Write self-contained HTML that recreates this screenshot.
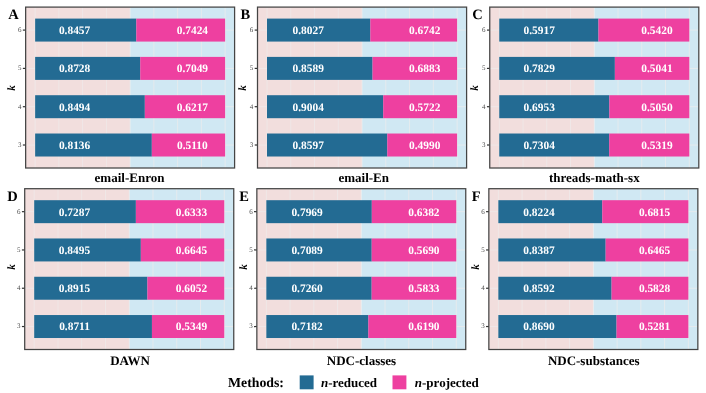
<!DOCTYPE html>
<html lang="en"><head><meta charset="utf-8"><title>Methods comparison</title>
<style>
html,body{margin:0;padding:0;background:#fff}
svg{display:block}
text{font-family:"Liberation Serif","Times New Roman",serif;text-rendering:geometricPrecision}
.v{font-size:11.4px;font-weight:bold;fill:#fff;text-anchor:middle}
.t{font-size:13px;font-weight:bold;fill:#000;text-anchor:middle}
.g{font-size:14.5px;font-weight:bold;fill:#000}
.k{font-size:7px;fill:#4d4d4d;text-anchor:end}
.y{font-size:11.2px;font-weight:bold;font-style:italic;fill:#000;text-anchor:middle}
.l{font-size:13px;font-weight:bold;fill:#000}
.lt{font-size:13.8px;font-weight:bold;fill:#000}
</style></head><body>
<svg width="706" height="393" viewBox="0 0 706 393">
<rect width="706" height="393" fill="#fff"/>

<g id="panelA">
<rect x="25.65" y="7.10" width="104.47" height="160.90" fill="#f2dedd"/>
<rect x="130.12" y="7.10" width="104.47" height="160.90" fill="#d0e8f3"/>
<line x1="35.15" y1="7.10" x2="35.15" y2="168.00" stroke="#efecec" stroke-opacity="0.85" stroke-width="0.8"/>
<line x1="58.89" y1="7.10" x2="58.89" y2="168.00" stroke="#efecec" stroke-opacity="0.85" stroke-width="0.8"/>
<line x1="82.64" y1="7.10" x2="82.64" y2="168.00" stroke="#efecec" stroke-opacity="0.85" stroke-width="0.8"/>
<line x1="106.38" y1="7.10" x2="106.38" y2="168.00" stroke="#efecec" stroke-opacity="0.85" stroke-width="0.8"/>
<line x1="130.12" y1="7.10" x2="130.12" y2="168.00" stroke="#efecec" stroke-opacity="0.85" stroke-width="0.8"/>
<line x1="153.87" y1="7.10" x2="153.87" y2="168.00" stroke="#efecec" stroke-opacity="0.85" stroke-width="0.8"/>
<line x1="177.61" y1="7.10" x2="177.61" y2="168.00" stroke="#efecec" stroke-opacity="0.85" stroke-width="0.8"/>
<line x1="201.36" y1="7.10" x2="201.36" y2="168.00" stroke="#efecec" stroke-opacity="0.85" stroke-width="0.8"/>
<line x1="225.10" y1="7.10" x2="225.10" y2="168.00" stroke="#efecec" stroke-opacity="0.85" stroke-width="0.8"/>
<line x1="25.65" y1="30.09" x2="234.60" y2="30.09" stroke="#efecec" stroke-opacity="0.85" stroke-width="0.8"/>
<line x1="25.65" y1="68.40" x2="234.60" y2="68.40" stroke="#efecec" stroke-opacity="0.85" stroke-width="0.8"/>
<line x1="25.65" y1="106.70" x2="234.60" y2="106.70" stroke="#efecec" stroke-opacity="0.85" stroke-width="0.8"/>
<line x1="25.65" y1="145.01" x2="234.60" y2="145.01" stroke="#efecec" stroke-opacity="0.85" stroke-width="0.8"/>
<rect x="35.15" y="18.59" width="101.16" height="22.99" fill="#236b93"/>
<rect x="136.30" y="18.59" width="88.80" height="22.99" fill="#ee40a0"/>
<text class="v" x="74.60" y="33.94">0.8457</text>
<text class="v" x="192.40" y="33.94">0.7424</text>
<line x1="22.85" y1="30.09" x2="25.65" y2="30.09" stroke="#333" stroke-width="1.2"/>
<text class="k" x="21.45" y="31.94">6</text>
<rect x="35.15" y="56.90" width="105.08" height="22.99" fill="#236b93"/>
<rect x="140.23" y="56.90" width="84.87" height="22.99" fill="#ee40a0"/>
<text class="v" x="74.60" y="72.25">0.8728</text>
<text class="v" x="192.40" y="72.25">0.7049</text>
<line x1="22.85" y1="68.40" x2="25.65" y2="68.40" stroke="#333" stroke-width="1.2"/>
<text class="k" x="21.45" y="70.25">5</text>
<rect x="35.15" y="95.21" width="109.68" height="22.99" fill="#236b93"/>
<rect x="144.83" y="95.21" width="80.28" height="22.99" fill="#ee40a0"/>
<text class="v" x="74.60" y="110.55">0.8494</text>
<text class="v" x="192.40" y="110.55">0.6217</text>
<line x1="22.85" y1="106.70" x2="25.65" y2="106.70" stroke="#333" stroke-width="1.2"/>
<text class="k" x="21.45" y="108.55">4</text>
<rect x="35.15" y="133.52" width="116.67" height="22.99" fill="#236b93"/>
<rect x="151.82" y="133.52" width="73.28" height="22.99" fill="#ee40a0"/>
<text class="v" x="74.60" y="148.86">0.8136</text>
<text class="v" x="192.40" y="148.86">0.5110</text>
<line x1="22.85" y1="145.01" x2="25.65" y2="145.01" stroke="#333" stroke-width="1.2"/>
<text class="k" x="21.45" y="146.86">3</text>
<rect x="25.65" y="7.10" width="208.95" height="160.90" fill="none" stroke="#444" stroke-width="1.25"/>
<text class="g" x="8.30" y="18.70">A</text>
<text class="y" transform="translate(14.85,88.00) rotate(-90)">k</text>
<text class="t" x="129.50" y="181.80">email-Enron</text>
</g>
<g id="panelB">
<rect x="257.50" y="7.10" width="104.55" height="160.90" fill="#f2dedd"/>
<rect x="362.05" y="7.10" width="104.55" height="160.90" fill="#d0e8f3"/>
<line x1="267.00" y1="7.10" x2="267.00" y2="168.00" stroke="#efecec" stroke-opacity="0.85" stroke-width="0.8"/>
<line x1="290.77" y1="7.10" x2="290.77" y2="168.00" stroke="#efecec" stroke-opacity="0.85" stroke-width="0.8"/>
<line x1="314.53" y1="7.10" x2="314.53" y2="168.00" stroke="#efecec" stroke-opacity="0.85" stroke-width="0.8"/>
<line x1="338.29" y1="7.10" x2="338.29" y2="168.00" stroke="#efecec" stroke-opacity="0.85" stroke-width="0.8"/>
<line x1="362.05" y1="7.10" x2="362.05" y2="168.00" stroke="#efecec" stroke-opacity="0.85" stroke-width="0.8"/>
<line x1="385.81" y1="7.10" x2="385.81" y2="168.00" stroke="#efecec" stroke-opacity="0.85" stroke-width="0.8"/>
<line x1="409.57" y1="7.10" x2="409.57" y2="168.00" stroke="#efecec" stroke-opacity="0.85" stroke-width="0.8"/>
<line x1="433.33" y1="7.10" x2="433.33" y2="168.00" stroke="#efecec" stroke-opacity="0.85" stroke-width="0.8"/>
<line x1="457.10" y1="7.10" x2="457.10" y2="168.00" stroke="#efecec" stroke-opacity="0.85" stroke-width="0.8"/>
<line x1="257.50" y1="30.09" x2="466.60" y2="30.09" stroke="#efecec" stroke-opacity="0.85" stroke-width="0.8"/>
<line x1="257.50" y1="68.40" x2="466.60" y2="68.40" stroke="#efecec" stroke-opacity="0.85" stroke-width="0.8"/>
<line x1="257.50" y1="106.70" x2="466.60" y2="106.70" stroke="#efecec" stroke-opacity="0.85" stroke-width="0.8"/>
<line x1="257.50" y1="145.01" x2="466.60" y2="145.01" stroke="#efecec" stroke-opacity="0.85" stroke-width="0.8"/>
<rect x="267.00" y="18.59" width="103.32" height="22.99" fill="#236b93"/>
<rect x="370.32" y="18.59" width="86.78" height="22.99" fill="#ee40a0"/>
<text class="v" x="308.20" y="33.94">0.8027</text>
<text class="v" x="424.70" y="33.94">0.6742</text>
<line x1="254.70" y1="30.09" x2="257.50" y2="30.09" stroke="#333" stroke-width="1.2"/>
<text class="k" x="253.30" y="31.94">6</text>
<rect x="267.00" y="56.90" width="105.53" height="22.99" fill="#236b93"/>
<rect x="372.53" y="56.90" width="84.57" height="22.99" fill="#ee40a0"/>
<text class="v" x="308.20" y="72.25">0.8589</text>
<text class="v" x="424.70" y="72.25">0.6883</text>
<line x1="254.70" y1="68.40" x2="257.50" y2="68.40" stroke="#333" stroke-width="1.2"/>
<text class="k" x="253.30" y="70.25">5</text>
<rect x="267.00" y="95.21" width="116.23" height="22.99" fill="#236b93"/>
<rect x="383.23" y="95.21" width="73.86" height="22.99" fill="#ee40a0"/>
<text class="v" x="308.20" y="110.55">0.9004</text>
<text class="v" x="424.70" y="110.55">0.5722</text>
<line x1="254.70" y1="106.70" x2="257.50" y2="106.70" stroke="#333" stroke-width="1.2"/>
<text class="k" x="253.30" y="108.55">4</text>
<rect x="267.00" y="133.52" width="120.28" height="22.99" fill="#236b93"/>
<rect x="387.28" y="133.52" width="69.81" height="22.99" fill="#ee40a0"/>
<text class="v" x="308.20" y="148.86">0.8597</text>
<text class="v" x="424.70" y="148.86">0.4990</text>
<line x1="254.70" y1="145.01" x2="257.50" y2="145.01" stroke="#333" stroke-width="1.2"/>
<text class="k" x="253.30" y="146.86">3</text>
<rect x="257.50" y="7.10" width="209.10" height="160.90" fill="none" stroke="#444" stroke-width="1.25"/>
<text class="g" x="240.55" y="18.70">B</text>
<text class="y" transform="translate(246.20,88.00) rotate(-90)">k</text>
<text class="t" x="363.75" y="181.80">email-En</text>
</g>
<g id="panelC">
<rect x="489.75" y="7.10" width="104.52" height="160.90" fill="#f2dedd"/>
<rect x="594.27" y="7.10" width="104.52" height="160.90" fill="#d0e8f3"/>
<line x1="499.25" y1="7.10" x2="499.25" y2="168.00" stroke="#efecec" stroke-opacity="0.85" stroke-width="0.8"/>
<line x1="523.01" y1="7.10" x2="523.01" y2="168.00" stroke="#efecec" stroke-opacity="0.85" stroke-width="0.8"/>
<line x1="546.76" y1="7.10" x2="546.76" y2="168.00" stroke="#efecec" stroke-opacity="0.85" stroke-width="0.8"/>
<line x1="570.52" y1="7.10" x2="570.52" y2="168.00" stroke="#efecec" stroke-opacity="0.85" stroke-width="0.8"/>
<line x1="594.27" y1="7.10" x2="594.27" y2="168.00" stroke="#efecec" stroke-opacity="0.85" stroke-width="0.8"/>
<line x1="618.03" y1="7.10" x2="618.03" y2="168.00" stroke="#efecec" stroke-opacity="0.85" stroke-width="0.8"/>
<line x1="641.79" y1="7.10" x2="641.79" y2="168.00" stroke="#efecec" stroke-opacity="0.85" stroke-width="0.8"/>
<line x1="665.54" y1="7.10" x2="665.54" y2="168.00" stroke="#efecec" stroke-opacity="0.85" stroke-width="0.8"/>
<line x1="689.30" y1="7.10" x2="689.30" y2="168.00" stroke="#efecec" stroke-opacity="0.85" stroke-width="0.8"/>
<line x1="489.75" y1="30.09" x2="698.80" y2="30.09" stroke="#efecec" stroke-opacity="0.85" stroke-width="0.8"/>
<line x1="489.75" y1="68.40" x2="698.80" y2="68.40" stroke="#efecec" stroke-opacity="0.85" stroke-width="0.8"/>
<line x1="489.75" y1="106.70" x2="698.80" y2="106.70" stroke="#efecec" stroke-opacity="0.85" stroke-width="0.8"/>
<line x1="489.75" y1="145.01" x2="698.80" y2="145.01" stroke="#efecec" stroke-opacity="0.85" stroke-width="0.8"/>
<rect x="499.25" y="18.59" width="99.19" height="22.99" fill="#236b93"/>
<rect x="598.44" y="18.59" width="90.86" height="22.99" fill="#ee40a0"/>
<text class="v" x="539.20" y="33.94">0.5917</text>
<text class="v" x="657.00" y="33.94">0.5420</text>
<line x1="486.95" y1="30.09" x2="489.75" y2="30.09" stroke="#333" stroke-width="1.2"/>
<text class="k" x="485.55" y="31.94">6</text>
<rect x="499.25" y="56.90" width="115.61" height="22.99" fill="#236b93"/>
<rect x="614.86" y="56.90" width="74.44" height="22.99" fill="#ee40a0"/>
<text class="v" x="539.20" y="72.25">0.7829</text>
<text class="v" x="657.00" y="72.25">0.5041</text>
<line x1="486.95" y1="68.40" x2="489.75" y2="68.40" stroke="#333" stroke-width="1.2"/>
<text class="k" x="485.55" y="70.25">5</text>
<rect x="499.25" y="95.21" width="110.09" height="22.99" fill="#236b93"/>
<rect x="609.34" y="95.21" width="79.96" height="22.99" fill="#ee40a0"/>
<text class="v" x="539.20" y="110.55">0.6953</text>
<text class="v" x="657.00" y="110.55">0.5050</text>
<line x1="486.95" y1="106.70" x2="489.75" y2="106.70" stroke="#333" stroke-width="1.2"/>
<text class="k" x="485.55" y="108.55">4</text>
<rect x="499.25" y="133.52" width="109.97" height="22.99" fill="#236b93"/>
<rect x="609.22" y="133.52" width="80.08" height="22.99" fill="#ee40a0"/>
<text class="v" x="539.20" y="148.86">0.7304</text>
<text class="v" x="657.00" y="148.86">0.5319</text>
<line x1="486.95" y1="145.01" x2="489.75" y2="145.01" stroke="#333" stroke-width="1.2"/>
<text class="k" x="485.55" y="146.86">3</text>
<rect x="489.75" y="7.10" width="209.05" height="160.90" fill="none" stroke="#444" stroke-width="1.25"/>
<text class="g" x="472.30" y="18.70">C</text>
<text class="y" transform="translate(478.45,88.00) rotate(-90)">k</text>
<text class="t" x="594.30" y="181.80">threads-math-sx</text>
</g>
<g id="panelD">
<rect x="24.70" y="188.70" width="104.52" height="160.80" fill="#f2dedd"/>
<rect x="129.22" y="188.70" width="104.53" height="160.80" fill="#d0e8f3"/>
<line x1="34.20" y1="188.70" x2="34.20" y2="349.50" stroke="#efecec" stroke-opacity="0.85" stroke-width="0.8"/>
<line x1="57.96" y1="188.70" x2="57.96" y2="349.50" stroke="#efecec" stroke-opacity="0.85" stroke-width="0.8"/>
<line x1="81.71" y1="188.70" x2="81.71" y2="349.50" stroke="#efecec" stroke-opacity="0.85" stroke-width="0.8"/>
<line x1="105.47" y1="188.70" x2="105.47" y2="349.50" stroke="#efecec" stroke-opacity="0.85" stroke-width="0.8"/>
<line x1="129.22" y1="188.70" x2="129.22" y2="349.50" stroke="#efecec" stroke-opacity="0.85" stroke-width="0.8"/>
<line x1="152.98" y1="188.70" x2="152.98" y2="349.50" stroke="#efecec" stroke-opacity="0.85" stroke-width="0.8"/>
<line x1="176.74" y1="188.70" x2="176.74" y2="349.50" stroke="#efecec" stroke-opacity="0.85" stroke-width="0.8"/>
<line x1="200.49" y1="188.70" x2="200.49" y2="349.50" stroke="#efecec" stroke-opacity="0.85" stroke-width="0.8"/>
<line x1="224.25" y1="188.70" x2="224.25" y2="349.50" stroke="#efecec" stroke-opacity="0.85" stroke-width="0.8"/>
<line x1="24.70" y1="211.67" x2="233.75" y2="211.67" stroke="#efecec" stroke-opacity="0.85" stroke-width="0.8"/>
<line x1="24.70" y1="249.96" x2="233.75" y2="249.96" stroke="#efecec" stroke-opacity="0.85" stroke-width="0.8"/>
<line x1="24.70" y1="288.24" x2="233.75" y2="288.24" stroke="#efecec" stroke-opacity="0.85" stroke-width="0.8"/>
<line x1="24.70" y1="326.53" x2="233.75" y2="326.53" stroke="#efecec" stroke-opacity="0.85" stroke-width="0.8"/>
<rect x="34.20" y="200.19" width="101.68" height="22.97" fill="#236b93"/>
<rect x="135.88" y="200.19" width="88.37" height="22.97" fill="#ee40a0"/>
<text class="v" x="74.50" y="215.52">0.7287</text>
<text class="v" x="191.50" y="215.52">0.6333</text>
<line x1="21.90" y1="211.67" x2="24.70" y2="211.67" stroke="#333" stroke-width="1.2"/>
<text class="k" x="20.50" y="213.52">6</text>
<rect x="34.20" y="238.47" width="106.63" height="22.97" fill="#236b93"/>
<rect x="140.84" y="238.47" width="83.41" height="22.97" fill="#ee40a0"/>
<text class="v" x="74.50" y="253.81">0.8495</text>
<text class="v" x="191.50" y="253.81">0.6645</text>
<line x1="21.90" y1="249.96" x2="24.70" y2="249.96" stroke="#333" stroke-width="1.2"/>
<text class="k" x="20.50" y="251.81">5</text>
<rect x="34.20" y="276.76" width="113.20" height="22.97" fill="#236b93"/>
<rect x="147.40" y="276.76" width="76.85" height="22.97" fill="#ee40a0"/>
<text class="v" x="74.50" y="292.09">0.8915</text>
<text class="v" x="191.50" y="292.09">0.6052</text>
<line x1="21.90" y1="288.24" x2="24.70" y2="288.24" stroke="#333" stroke-width="1.2"/>
<text class="k" x="20.50" y="290.09">4</text>
<rect x="34.20" y="315.04" width="117.74" height="22.97" fill="#236b93"/>
<rect x="151.95" y="315.04" width="72.30" height="22.97" fill="#ee40a0"/>
<text class="v" x="74.50" y="330.38">0.8711</text>
<text class="v" x="191.50" y="330.38">0.5349</text>
<line x1="21.90" y1="326.53" x2="24.70" y2="326.53" stroke="#333" stroke-width="1.2"/>
<text class="k" x="20.50" y="328.38">3</text>
<rect x="24.70" y="188.70" width="209.05" height="160.80" fill="none" stroke="#444" stroke-width="1.25"/>
<text class="g" x="7.30" y="201.30">D</text>
<text class="y" transform="translate(14.95,267.05) rotate(-90)">k</text>
<text class="t" x="130.05" y="364.50">DAWN</text>
</g>
<g id="panelE">
<rect x="256.85" y="188.70" width="104.45" height="160.80" fill="#f2dedd"/>
<rect x="361.30" y="188.70" width="104.45" height="160.80" fill="#d0e8f3"/>
<line x1="266.35" y1="188.70" x2="266.35" y2="349.50" stroke="#efecec" stroke-opacity="0.85" stroke-width="0.8"/>
<line x1="290.08" y1="188.70" x2="290.08" y2="349.50" stroke="#efecec" stroke-opacity="0.85" stroke-width="0.8"/>
<line x1="313.82" y1="188.70" x2="313.82" y2="349.50" stroke="#efecec" stroke-opacity="0.85" stroke-width="0.8"/>
<line x1="337.56" y1="188.70" x2="337.56" y2="349.50" stroke="#efecec" stroke-opacity="0.85" stroke-width="0.8"/>
<line x1="361.30" y1="188.70" x2="361.30" y2="349.50" stroke="#efecec" stroke-opacity="0.85" stroke-width="0.8"/>
<line x1="385.04" y1="188.70" x2="385.04" y2="349.50" stroke="#efecec" stroke-opacity="0.85" stroke-width="0.8"/>
<line x1="408.78" y1="188.70" x2="408.78" y2="349.50" stroke="#efecec" stroke-opacity="0.85" stroke-width="0.8"/>
<line x1="432.52" y1="188.70" x2="432.52" y2="349.50" stroke="#efecec" stroke-opacity="0.85" stroke-width="0.8"/>
<line x1="456.25" y1="188.70" x2="456.25" y2="349.50" stroke="#efecec" stroke-opacity="0.85" stroke-width="0.8"/>
<line x1="256.85" y1="211.67" x2="465.75" y2="211.67" stroke="#efecec" stroke-opacity="0.85" stroke-width="0.8"/>
<line x1="256.85" y1="249.96" x2="465.75" y2="249.96" stroke="#efecec" stroke-opacity="0.85" stroke-width="0.8"/>
<line x1="256.85" y1="288.24" x2="465.75" y2="288.24" stroke="#efecec" stroke-opacity="0.85" stroke-width="0.8"/>
<line x1="256.85" y1="326.53" x2="465.75" y2="326.53" stroke="#efecec" stroke-opacity="0.85" stroke-width="0.8"/>
<rect x="266.35" y="200.19" width="105.46" height="22.97" fill="#236b93"/>
<rect x="371.80" y="200.19" width="84.45" height="22.97" fill="#ee40a0"/>
<text class="v" x="307.10" y="215.52">0.7969</text>
<text class="v" x="423.90" y="215.52">0.6382</text>
<line x1="254.05" y1="211.67" x2="256.85" y2="211.67" stroke="#333" stroke-width="1.2"/>
<text class="k" x="252.65" y="213.52">6</text>
<rect x="266.35" y="238.47" width="105.35" height="22.97" fill="#236b93"/>
<rect x="371.70" y="238.47" width="84.56" height="22.97" fill="#ee40a0"/>
<text class="v" x="307.10" y="253.81">0.7089</text>
<text class="v" x="423.90" y="253.81">0.5690</text>
<line x1="254.05" y1="249.96" x2="256.85" y2="249.96" stroke="#333" stroke-width="1.2"/>
<text class="k" x="252.65" y="251.81">5</text>
<rect x="266.35" y="276.76" width="105.30" height="22.97" fill="#236b93"/>
<rect x="371.65" y="276.76" width="84.61" height="22.97" fill="#ee40a0"/>
<text class="v" x="307.10" y="292.09">0.7260</text>
<text class="v" x="423.90" y="292.09">0.5833</text>
<line x1="254.05" y1="288.24" x2="256.85" y2="288.24" stroke="#333" stroke-width="1.2"/>
<text class="k" x="252.65" y="290.09">4</text>
<rect x="266.35" y="315.04" width="102.00" height="22.97" fill="#236b93"/>
<rect x="368.34" y="315.04" width="87.91" height="22.97" fill="#ee40a0"/>
<text class="v" x="307.10" y="330.38">0.7182</text>
<text class="v" x="423.90" y="330.38">0.6190</text>
<line x1="254.05" y1="326.53" x2="256.85" y2="326.53" stroke="#333" stroke-width="1.2"/>
<text class="k" x="252.65" y="328.38">3</text>
<rect x="256.85" y="188.70" width="208.90" height="160.80" fill="none" stroke="#444" stroke-width="1.25"/>
<text class="g" x="239.25" y="201.30">E</text>
<text class="y" transform="translate(247.05,267.05) rotate(-90)">k</text>
<text class="t" x="361.45" y="364.50">NDC-classes</text>
</g>
<g id="panelF">
<rect x="488.85" y="188.70" width="104.50" height="160.80" fill="#f2dedd"/>
<rect x="593.35" y="188.70" width="104.50" height="160.80" fill="#d0e8f3"/>
<line x1="498.35" y1="188.70" x2="498.35" y2="349.50" stroke="#efecec" stroke-opacity="0.85" stroke-width="0.8"/>
<line x1="522.10" y1="188.70" x2="522.10" y2="349.50" stroke="#efecec" stroke-opacity="0.85" stroke-width="0.8"/>
<line x1="545.85" y1="188.70" x2="545.85" y2="349.50" stroke="#efecec" stroke-opacity="0.85" stroke-width="0.8"/>
<line x1="569.60" y1="188.70" x2="569.60" y2="349.50" stroke="#efecec" stroke-opacity="0.85" stroke-width="0.8"/>
<line x1="593.35" y1="188.70" x2="593.35" y2="349.50" stroke="#efecec" stroke-opacity="0.85" stroke-width="0.8"/>
<line x1="617.10" y1="188.70" x2="617.10" y2="349.50" stroke="#efecec" stroke-opacity="0.85" stroke-width="0.8"/>
<line x1="640.85" y1="188.70" x2="640.85" y2="349.50" stroke="#efecec" stroke-opacity="0.85" stroke-width="0.8"/>
<line x1="664.60" y1="188.70" x2="664.60" y2="349.50" stroke="#efecec" stroke-opacity="0.85" stroke-width="0.8"/>
<line x1="688.35" y1="188.70" x2="688.35" y2="349.50" stroke="#efecec" stroke-opacity="0.85" stroke-width="0.8"/>
<line x1="488.85" y1="211.67" x2="697.85" y2="211.67" stroke="#efecec" stroke-opacity="0.85" stroke-width="0.8"/>
<line x1="488.85" y1="249.96" x2="697.85" y2="249.96" stroke="#efecec" stroke-opacity="0.85" stroke-width="0.8"/>
<line x1="488.85" y1="288.24" x2="697.85" y2="288.24" stroke="#efecec" stroke-opacity="0.85" stroke-width="0.8"/>
<line x1="488.85" y1="326.53" x2="697.85" y2="326.53" stroke="#efecec" stroke-opacity="0.85" stroke-width="0.8"/>
<rect x="498.35" y="200.19" width="103.90" height="22.97" fill="#236b93"/>
<rect x="602.25" y="200.19" width="86.10" height="22.97" fill="#ee40a0"/>
<text class="v" x="539.00" y="215.52">0.8224</text>
<text class="v" x="654.55" y="215.52">0.6815</text>
<line x1="486.05" y1="211.67" x2="488.85" y2="211.67" stroke="#333" stroke-width="1.2"/>
<text class="k" x="484.65" y="213.52">6</text>
<rect x="498.35" y="238.47" width="107.29" height="22.97" fill="#236b93"/>
<rect x="605.64" y="238.47" width="82.71" height="22.97" fill="#ee40a0"/>
<text class="v" x="539.00" y="253.81">0.8387</text>
<text class="v" x="654.55" y="253.81">0.6465</text>
<line x1="486.05" y1="249.96" x2="488.85" y2="249.96" stroke="#333" stroke-width="1.2"/>
<text class="k" x="484.65" y="251.81">5</text>
<rect x="498.35" y="276.76" width="113.21" height="22.97" fill="#236b93"/>
<rect x="611.56" y="276.76" width="76.79" height="22.97" fill="#ee40a0"/>
<text class="v" x="539.00" y="292.09">0.8592</text>
<text class="v" x="654.55" y="292.09">0.5828</text>
<line x1="486.05" y1="288.24" x2="488.85" y2="288.24" stroke="#333" stroke-width="1.2"/>
<text class="k" x="484.65" y="290.09">4</text>
<rect x="498.35" y="315.04" width="118.18" height="22.97" fill="#236b93"/>
<rect x="616.53" y="315.04" width="71.82" height="22.97" fill="#ee40a0"/>
<text class="v" x="539.00" y="330.38">0.8690</text>
<text class="v" x="654.55" y="330.38">0.5281</text>
<line x1="486.05" y1="326.53" x2="488.85" y2="326.53" stroke="#333" stroke-width="1.2"/>
<text class="k" x="484.65" y="328.38">3</text>
<rect x="488.85" y="188.70" width="209.00" height="160.80" fill="none" stroke="#444" stroke-width="1.25"/>
<text class="g" x="471.75" y="201.30">F</text>
<text class="y" transform="translate(479.35,267.05) rotate(-90)">k</text>
<text class="t" x="593.75" y="364.50">NDC-substances</text>
</g>
<g id="legend">
<text class="lt" x="228.0" y="386.8">Methods:</text>
<rect x="299.7" y="375.4" width="13.9" height="13.9" fill="#236b93"/>
<text class="l" x="320.9" y="386.8"><tspan font-style="italic">n</tspan>-reduced</text>
<rect x="392.5" y="375.4" width="13.9" height="13.9" fill="#ee40a0"/>
<text class="l" x="414.8" y="386.8"><tspan font-style="italic">n</tspan>-projected</text>
</g>
</svg></body></html>
